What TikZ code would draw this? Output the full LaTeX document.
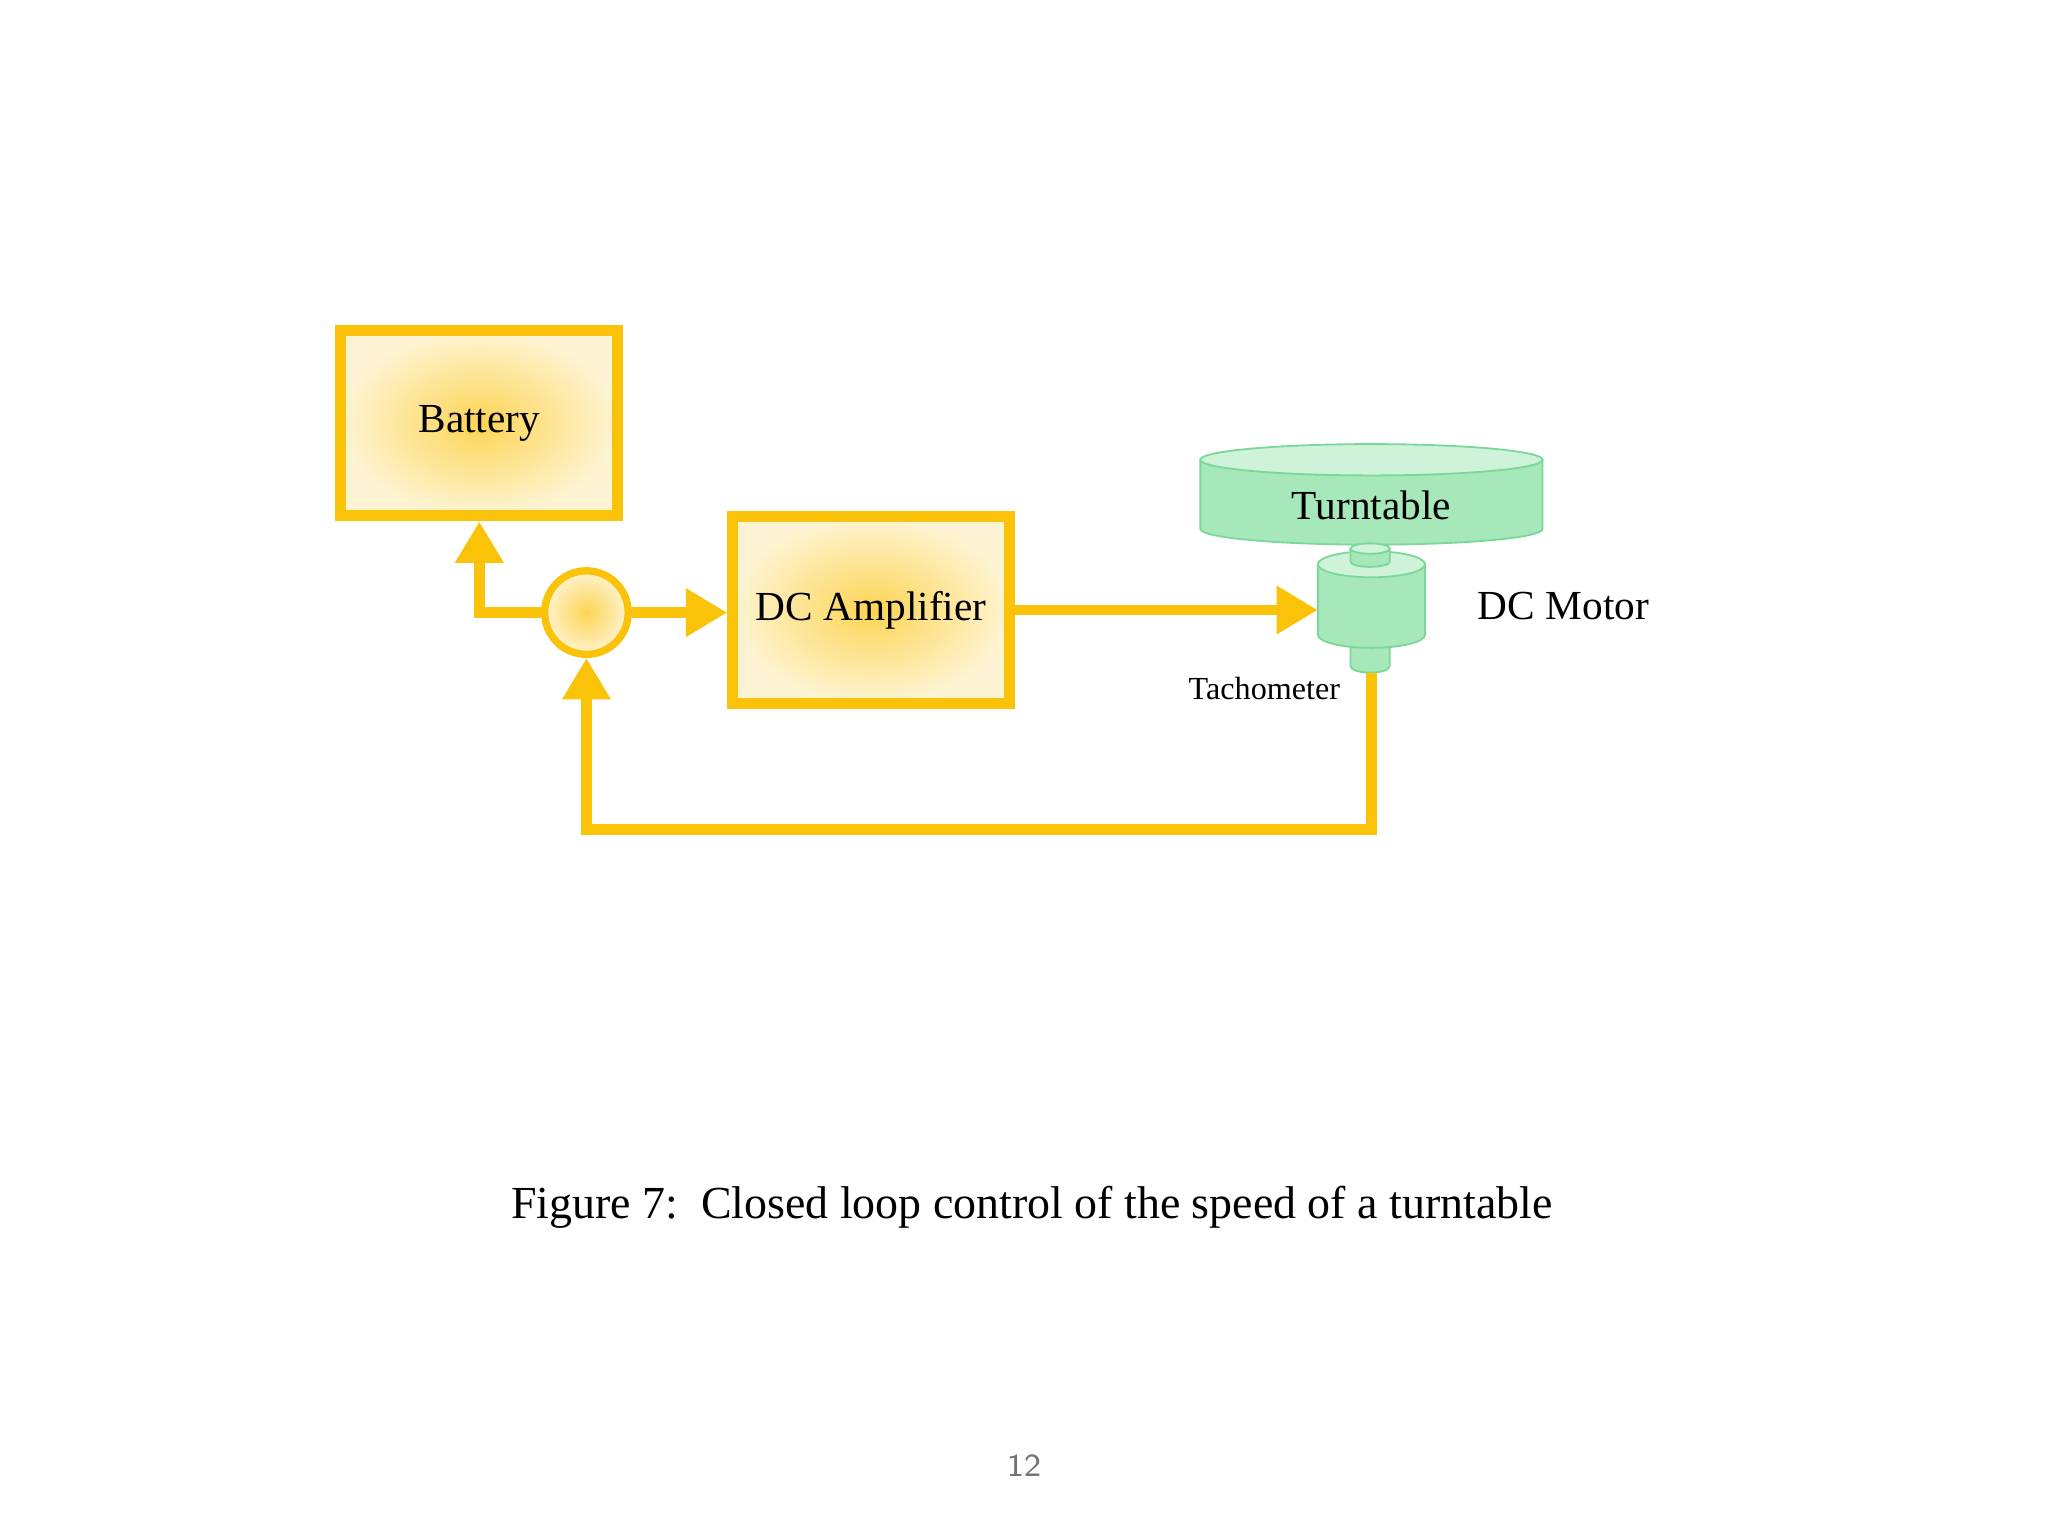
\documentclass[tikz,border=0pt]{standalone}
\usepackage{fontspec}
\setmainfont{Liberation Serif}
\usetikzlibrary{arrows.meta,shadows}
\definecolor{gold}{HTML}{FBC20A}
\definecolor{grn}{HTML}{A6E8BA}
\definecolor{grnd}{HTML}{7CD79A}
\definecolor{grnl}{HTML}{CFF3D9}
\tikzset{
 blk/.style={draw=gold,line width=2.4pt,inner sep=0pt,shading=radial,inner color=gold!70,outer color=gold!18,drop shadow={shadow xshift=0.4pt,shadow yshift=-0.6pt,fill=black!30}},
 wire/.style={draw=gold,line width=2.3pt},
 arr/.style={wire,-{Triangle[length=9pt,width=10pt]}},
 cyl/.style={fill=grn,draw=grnd,line width=0.4pt}
}
\begin{document}
\begin{tikzpicture}[x=0.1mm,y=-0.1mm]
\useasboundingbox (0,0) rectangle (1568,1176);
\node[blk,minimum width=21.2mm,minimum height=14.2mm,font=\fontsize{9}{11}\selectfont] (bat) at (367,324) {Battery};
\node[blk,minimum width=21.2mm,minimum height=14.3mm,font=\fontsize{9}{11}\selectfont] (amp) at (667,467) {DC Amplifier};
\node[circle,draw=gold,line width=1.6pt,minimum size=6.4mm,inner sep=0pt,shading=radial,inner color=gold!70,outer color=gold!20] (sum) at (449,469) {};
% turntable
\fill[cyl] (919,352) -- (919,405) arc[start angle=180,end angle=0,x radius=131,y radius=12] -- (1181,352) -- cycle;
\draw[fill=grnl,draw=grnd,line width=0.4pt] (1050,352) ellipse[x radius=131,y radius=12];
\node[font=\fontsize{9}{11}\selectfont] (tt) at (1050,387) {Turntable};
% tachometer
\fill[cyl] (1034,492) -- (1034,510) arc[start angle=180,end angle=0,x radius=15,y radius=5] -- (1064,492) -- cycle;
% motor
\fill[cyl] (1009,432) -- (1009,486) arc[start angle=180,end angle=0,x radius=41,y radius=10] -- (1091,432) -- cycle;
\draw[fill=grnl,draw=grnd,line width=0.4pt] (1050,432) ellipse[x radius=41,y radius=10];
% hub
\fill[cyl] (1034,420) -- (1034,430) arc[start angle=180,end angle=0,x radius=15,y radius=4] -- (1064,420) -- cycle;
\draw[fill=grnl,draw=grnd,line width=0.4pt] (1049,420) ellipse[x radius=15,y radius=4];
\coordinate (mot) at (1009,467);
\coordinate (tacho) at (1050,515);
\node[font=\fontsize{9}{11}\selectfont] (dcm) at (1197,464) {DC Motor};
\node[font=\fontsize{7}{9}\selectfont] (tl) at (968,527) {Tachometer};
% wires
\draw[arr] (sum.west) -| (bat.south);
\draw[arr] (sum.east) -- (sum.east -| amp.west);
\draw[arr] (amp.east |- mot) -- (mot);
\draw[arr] (tacho) |- (449,635) -- (sum.south);
\node[font=\fontsize{10}{12}\selectfont] (cap) at (790,924) {Figure 7:\ \ Closed loop control of the speed of a turntable};
\node[font=\sffamily\fontsize{7}{9}\selectfont,text=black!55] (pg) at (784,1122) {12};
\end{tikzpicture}
\end{document}
